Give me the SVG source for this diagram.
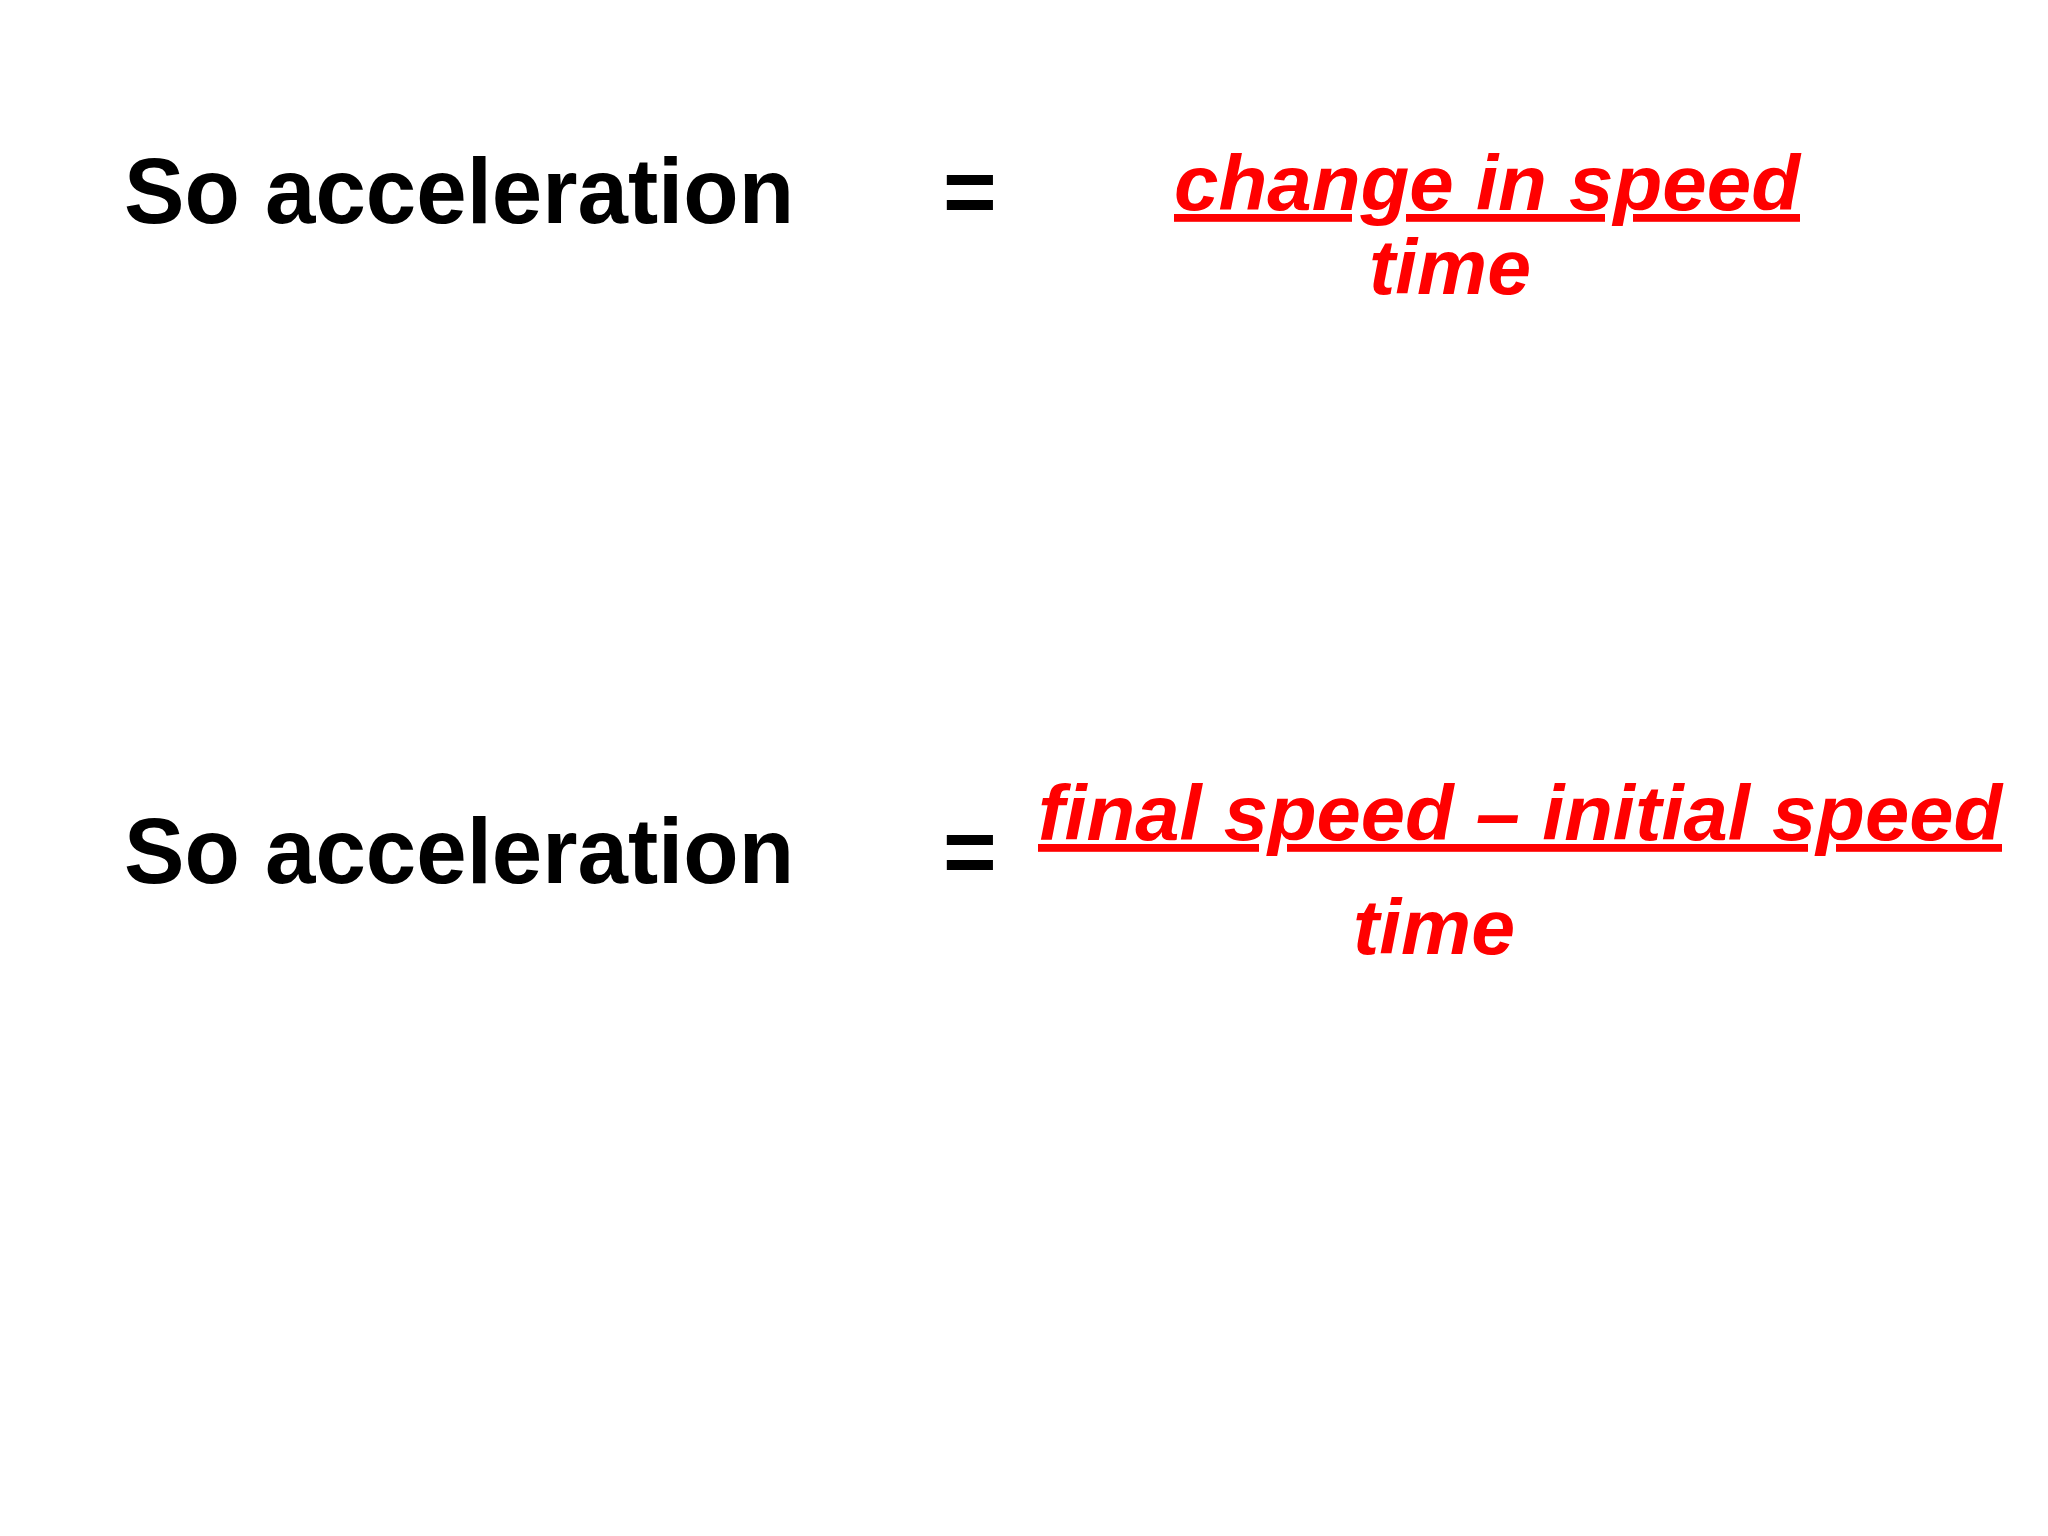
<svg xmlns="http://www.w3.org/2000/svg" width="2048" height="1536" viewBox="0 0 2048 1536">
<style>
.k{font-family:"Liberation Sans",Arial,sans-serif;font-weight:bold;font-size:92px;fill:#000}
.r{font-family:"Liberation Sans",Arial,sans-serif;font-weight:bold;font-style:italic;font-size:78px;fill:#ff0000}
.u{text-decoration:underline}
</style>
<rect width="2048" height="1536" fill="#fff"/>
<g id="row1">
<text class="k" x="124" y="223" textLength="670" lengthAdjust="spacingAndGlyphs">So acceleration</text>
<text class="k" x="943" y="223">=</text>
<text class="r u" x="1174" y="210" textLength="626" lengthAdjust="spacingAndGlyphs">change in speed</text>
<text class="r" x="1369" y="294" textLength="162" lengthAdjust="spacingAndGlyphs">time</text>
</g>
<g id="row2">
<text class="k" x="124" y="883" textLength="670" lengthAdjust="spacingAndGlyphs">So acceleration</text>
<text class="k" x="943" y="883">=</text>
<text class="r u" x="1038" y="840" textLength="964" lengthAdjust="spacingAndGlyphs">final speed – initial speed</text>
<text class="r" x="1353" y="954" textLength="162" lengthAdjust="spacingAndGlyphs">time</text>
</g>
</svg>
